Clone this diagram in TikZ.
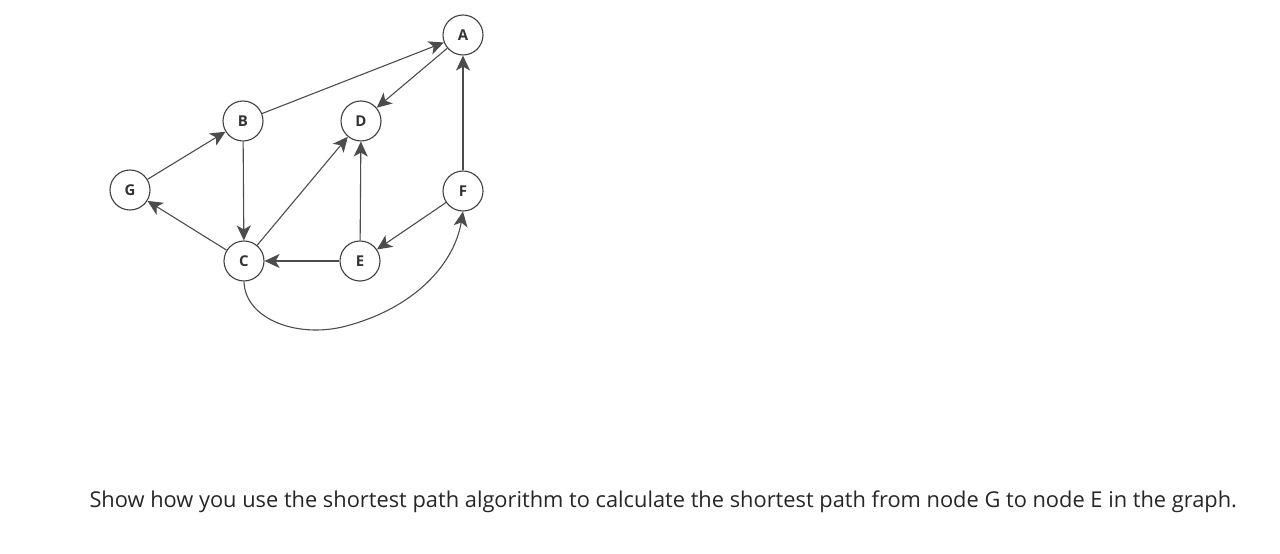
\documentclass[tikz,border=0pt]{standalone}
\usepackage{fontspec}
\setmainfont{Open Sans}
\usetikzlibrary{arrows.meta}
\begin{document}
\begin{tikzpicture}[x=1bp,y=-1bp,
  vert/.style={circle,draw=black!75,line width=1.1bp,minimum size=40bp,inner sep=0pt,font=\fontsize{15}{17}\selectfont\bfseries,text=black!80},
  edge/.style={draw=black!70,line width=1.1bp,-{Stealth[length=15bp,width=14bp,inset=4bp]}}]
\useasboundingbox (0,0) rectangle (1280,554);
\node[vert] (G) at (130,190) {G};
\node[vert] (B) at (243,121) {B};
\node[vert] (D) at (361,121) {D};
\node[vert] (A) at (463,35) {A};
\node[vert] (F) at (463,191) {F};
\node[vert] (C) at (244,261) {C};
\node[vert] (E) at (360,261) {E};
\draw[edge] (G) -- (B);
\draw[edge] (B) -- (A);
\draw[edge] (A) -- (D);
\draw[edge] (B) -- (C);
\draw[edge] (C) -- (D);
\draw[edge] (E) -- (D);
\draw[edge] (F) -- (A);
\draw[edge] (F) -- (E);
\draw[edge] (E) -- (C);
\draw[edge] (C) -- (G);
\draw[edge] (C.south) .. controls (245,320) and (300,340) .. (350,325) .. controls (420,305) and (455,260) .. (F.south);
\node[font=\fontsize{21.9}{26}\selectfont,text=black!85,anchor=west] (T) at (86,502) {Show how you use the shortest path algorithm to calculate the shortest path from node G to node E in the graph.};
\end{tikzpicture}
\end{document}
